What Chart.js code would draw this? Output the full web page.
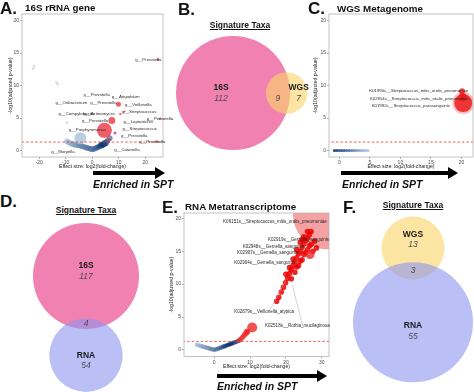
<!DOCTYPE html>
<html>
<head>
<meta charset="utf-8">
<script src="https://cdn.jsdelivr.net/npm/chart.js@4.4.0/dist/chart.umd.min.js"></script>
<style>
  html, body { margin: 0; padding: 0; background: #fff; }
  body { width: 474px; height: 392px; position: relative; overflow: hidden;
         font-family: "Liberation Sans", Arial, Helvetica, sans-serif; color: #111; }
  canvas { position: absolute; }
  .letter { position: absolute; font-weight: bold; font-size: 17px; line-height: 1; }
  .ptitle { position: absolute; font-weight: bold; font-size: 9.8px; line-height: 1; white-space: nowrap; }
  .vtitle { position: absolute; font-weight: bold; font-size: 8.5px; line-height: 1; text-decoration: underline;
            transform: translateX(-50%); white-space: nowrap; }
  .arrow { position: absolute; height: 4px; background: #000; }
  .arrow::after { content: ''; position: absolute; right: -10px; top: -4px; border-left: 10px solid #000;
                  border-top: 6px solid transparent; border-bottom: 6px solid transparent; }
  .enr { position: absolute; font-weight: bold; font-style: italic; font-size: 10.5px; line-height: 1; white-space: nowrap; }
</style>
</head>
<body>
<canvas id="chartA" width="180" height="162" style="left:0;top:10px"></canvas>
<canvas id="vennB" width="150" height="140" style="left:160px;top:28px"></canvas>
<canvas id="chartC" width="167" height="162" style="left:307px;top:10px"></canvas>
<canvas id="vennD" width="172" height="174" style="left:0;top:218px"></canvas>
<canvas id="chartE" width="180" height="165" style="left:160px;top:207px"></canvas>
<canvas id="vennF" width="134" height="180" style="left:340px;top:212px"></canvas>

<div class="letter" style="left:0;top:-0.5px">A.</div>
<div class="ptitle" style="left:25px;top:2.5px">16S rRNA gene</div>
<div class="letter" style="left:178px;top:0.5px">B.</div>
<div class="vtitle" style="left:240px;top:21px">Signature Taxa</div>
<div class="letter" style="left:308px;top:-0.5px">C.</div>
<div class="ptitle" style="left:337px;top:3.5px">WGS Metagenome</div>
<div class="letter" style="left:0;top:192.5px">D.</div>
<div class="vtitle" style="left:86px;top:206px">Signature Taxa</div>
<div class="letter" style="left:162px;top:198.5px">E.</div>
<div class="ptitle" style="left:185px;top:202px">RNA Metatranscriptome</div>
<div class="letter" style="left:343px;top:198.5px">F.</div>
<div class="vtitle" style="left:413px;top:201px">Signature Taxa</div>

<div class="arrow" style="left:93px;top:171px;width:62px"></div>
<div class="enr" style="left:93px;top:179px">Enriched in SPT</div>
<div class="arrow" style="left:341px;top:171px;width:107px"></div>
<div class="enr" style="left:342px;top:179px">Enriched in SPT</div>
<div class="arrow" style="left:217px;top:374px;width:100px"></div>
<div class="enr" style="left:217px;top:381px">Enriched in SPT</div>

<script>
// ---------- data ----------
const pThreshold = 1.3; // -log10(0.05)

// A. 16S rRNA gene
const aRedX = [4.6, 7.4, 9.9, 8.6, 6.4, 10.6, 12.2, 24.8, 25.6, 24.2];
const aRedY = [3.1, 4.6, 7.1, 2.7, 1.7, 5.6, 6.0, 14.0, 4.9, 1.4];
const aRedSize = [7.5, 3.5, 2.5, 1.5, 1.5, 1.2, 1.0, 1.2, 1.2, 1.2];
const aBlueX = [-9.5, -8.6, -7.8, -7, -6.2, -5.4, -4.6, -3.8, -3, -2.2, -1.4, -0.6, 0.2, 1, 1.8, 2.6, 3.4, 4.2, 5, 5.8, 6.6, -4.5];
const aBlueY = [1.4, 1.2, 1.05, 0.95, 0.85, 0.8, 0.75, 0.65, 0.55, 0.45, 0.35, 0.25, 0.2, 0.3, 0.45, 0.6, 0.8, 0.95, 1.15, 1.5, 1.9, 1.9];
const aBlueShade = [0.15, 0.2, 0.25, 0.3, 0.35, 0.4, 0.45, 0.5, 0.5, 0.55, 0.55, 0.6, 0.6, 0.65, 0.7, 0.8, 0.9, 1, 0.9, 0.7, 0.5, 0.1];
const aBlueSize = [2.8, 2.8, 2.8, 2.8, 2.8, 2.8, 2.8, 2.8, 2.8, 2.8, 2.8, 2.8, 2.8, 2.8, 2.8, 2.8, 3.2, 3.2, 3.2, 2.8, 2.8, 6];
const aGreyX = [-22.3, -22, -13.5, -13, -9.5];
const aGreyY = [12.6, 13, 10.5, 10.2, 4.3];
const aTaxa = ['g__Prevotella', 'g__Prevotella', 'g__Atopobium', 'g__Oribacterium', 'g__Prevotella', 'g__Veillonella',
  'g__Streptococcus', 'g__Campylobacter', 'g__Actinomyces', 'g__Prevotella', 'g__Prevotella', 'g__Leptotrichia',
  'g__Porphyromonas', 'g__Streptococcus', 'g__Prevotella', 'g__Prevotella', 'g__Catonella', 'g__Moryella'];
const aTaxaX = [16.2, -3.3, 7.4, -13.9, -0.75, 12.4, 11.2, -12.7, -3.3, 20.6, -3.9, 11.8, -8.9, 11.4, 10.9, 17.7, 8.3, -15.5];
const aTaxaY = [14, 8.5, 8.3, 7.3, 7.3, 7.1, 5.9, 5.6, 5.6, 4.8, 4.5, 4.4, 3.2, 3.3, 2.3, 1.3, 0.15, -0.25];

// C. WGS metagenome
const cRedX = [20.3, 20.2, 20.1];
const cRedY = [7.3, 8.2, 9.1];
const cRedSize = [9, 4, 3];
const cBlueX = [-0.8, -0.4, 0, 0.4, 0.8, 1.2, 1.6, 2, 2.4, 2.8, 3.2, 3.6, 4, 4.4, 4.7];
const cBlueY = [0, 0, 0, 0, 0, 0, 0, 0, 0, 0, 0, 0, 0, 0, 0];
const cBlueShade = [1, 0.95, 0.9, 0.85, 0.8, 0.72, 0.65, 0.58, 0.5, 0.42, 0.35, 0.28, 0.22, 0.16, 0.1];
const cKO = ['K01990s__Streptococcus_mitis_oralis_pneumoniae', 'K02954s__Streptococcus_mitis_oralis_pneumoniae',
  'K01992s__Streptococcus_parasanguinis'];
const cKOX = [4.9, 5.0, 5.3];
const cKOY = [9.2, 7.95, 6.8];

// E. RNA metatranscriptome
const eBlueX = [-4.8, -4.2, -3.6, -3, -2.4, -1.8, -1.2, -0.6, 0, 0.6, 1.2, 1.8, 2.4, 3, 3.6, 4.2, 4.8, 5.4, 6, 6.6];
const eBlueY = [0.78, 0.68, 0.58, 0.48, 0.39, 0.29, 0.2, 0.1, 0.02, 0.1, 0.22, 0.34, 0.46, 0.58, 0.7, 0.82, 0.95, 1.08, 1.2, 1.32];
const eBlueShade = [0.15, 0.2, 0.25, 0.3, 0.35, 0.4, 0.45, 0.5, 0.55, 0.6, 0.65, 0.72, 0.8, 0.88, 0.95, 1, 1, 0.95, 0.85, 0.75];
const eRedX = [7, 7.5, 8, 8.5, 9, 9.2, 10.6, 26.7];
const eRedY = [1.45, 1.7, 2, 2.3, 2.6, 2.8, 3.4, 14.5];
const eRedSize = [2.5, 2.5, 2.6, 2.8, 3, 3, 5, 4.5];
const eCloudX = [17.4, 18, 18.7, 19.3, 19.9, 20.5, 21, 21.5, 22, 22.5, 23, 23.5, 24, 24.5, 25, 25.5, 26, 26.5, 27,
  23, 24, 25, 26, 27, 28, 24.5, 26, 27.5, 28.5,
  20, 21, 22, 23, 24, 25, 21.5, 22.5, 23.5, 24.5, 25.5, 26.5];
const eCloudY = [7.4, 8, 8.8, 9.5, 10.2, 10.9, 11.6, 12.2, 12.8, 13.4, 14, 14.6, 15, 15.6, 16.1, 16.6, 17, 17.5, 18,
  12.6, 13.5, 14.5, 15.2, 16, 16.5, 16.8, 18, 15, 15.5,
  11.5, 12.5, 13.8, 15.2, 16.3, 17.2, 10.8, 11.8, 12.8, 13.7, 14.8, 15.8];
const eTopX = [31.7];
const eTopY = [20.6];
const eKO = ['K06151s__Streptococcus_mitis_oralis_pneumoniae', 'K02919s__Gemella_sanguinis', 'K02948s__Gemella_sanguinis',
  'K02907s__Gemella_sanguinis', 'K02904s__Gemella_sanguinis', 'K02879s__Veillonella_atypica', 'K02518s__Rothia_mucilaginosa'];
const eKOX = [2.5, 15, 8, 6.4, 5.6, 5.6, 14.2];
const eKOY = [19.4, 16.8, 15.7, 14.7, 13.3, 5.8, 3.7];
const eLinkFromX = [15.6, 24.7];
const eLinkFromY = [6.1, 3.6];
const eLinkToX = [19.8, 21.8];
const eLinkToY = [10.4, 9.8];

// Venn diagrams: unique counts per set and the shared count
const vennBSets = ['16S', 'WGS'];
const vennBOnly = [112, 7];
const vennBBoth = 9;
const vennDSets = ['16S', 'RNA'];
const vennDOnly = [117, 54];
const vennDBoth = 4;
const vennFSets = ['WGS', 'RNA'];
const vennFOnly = [13, 55];
const vennFBoth = 3;

// ---------- helpers ----------
Chart.defaults.font.family = "'Liberation Sans', Arial, sans-serif";

const pts = (xs, ys) => xs.map((x, i) => ({ x, y: ys[i] }));
function blue(t) {
  const a = [190, 215, 238], b = [8, 48, 107];
  const c = a.map((v, i) => Math.round(v + (b[i] - v) * t));
  return `rgba(${c[0]},${c[1]},${c[2]},0.85)`;
}
const RED = '#e8332e';

const framePlugin = {
  id: 'frame',
  afterDatasetsDraw(chart) {
    const { ctx, chartArea: a } = chart;
    ctx.save();
    ctx.strokeStyle = '#b3b3b3';
    ctx.lineWidth = 0.8;
    ctx.strokeRect(a.left, a.top, a.right - a.left, a.bottom - a.top);
    ctx.restore();
  }
};

function textPlugin(texts, xs, ys, size) {
  return {
    id: 'pointText',
    afterDatasetsDraw(chart) {
      const { ctx, scales } = chart;
      ctx.save();
      ctx.font = size + "px 'Liberation Sans', Arial, sans-serif";
      ctx.fillStyle = '#2a2a2a';
      ctx.textAlign = 'left';
      ctx.textBaseline = 'middle';
      texts.forEach((t, i) => ctx.fillText(t, scales.x.getPixelForValue(xs[i]), scales.y.getPixelForValue(ys[i])));
      ctx.restore();
    }
  };
}

function thresholdLine(xMin, xMax) {
  return {
    data: [{ x: xMin, y: pThreshold }, { x: xMax, y: pThreshold }],
    showLine: true, pointRadius: 0, borderColor: RED, borderWidth: 0.8, borderDash: [2.5, 2]
  };
}

function volcano(id, o) {
  return new Chart(document.getElementById(id), {
    type: 'scatter',
    data: { datasets: o.datasets },
    options: {
      responsive: false,
      animation: false,
      events: [],
      layout: { autoPadding: false, padding: { top: o.padTop, right: o.padRight, left: 0, bottom: 0 } },
      plugins: { legend: { display: false }, tooltip: { enabled: false } },
      scales: {
        x: {
          type: 'linear', min: o.xMin, max: o.xMax,
          afterFit: s => { s.height = o.xAxisH; },
          ticks: { stepSize: o.xStep, includeBounds: false, font: { size: 5 }, color: '#4d4d4d', padding: 1, maxRotation: 0 },
          grid: { drawOnChartArea: false, tickLength: 2, color: '#555', lineWidth: 0.5 },
          border: { display: false },
          title: { display: true, text: 'Effect size: log2(fold-change)', font: { size: 5.2 }, color: '#222', padding: { top: 0, bottom: 2 } }
        },
        y: {
          type: 'linear', min: -1, max: o.yMax,
          afterFit: s => { s.width = o.yAxisW; },
          ticks: { stepSize: 5, includeBounds: false, font: { size: 5 }, color: '#4d4d4d', padding: 1 },
          grid: { drawOnChartArea: false, tickLength: 2, color: '#555', lineWidth: 0.5 },
          border: { display: false },
          title: { display: true, text: '-log10(adjusted p-value)', font: { size: 5.2 }, color: '#222', padding: { top: o.yTitlePad, bottom: 0 } }
        }
      }
    },
    plugins: [framePlugin, textPlugin(o.texts, o.textX, o.textY, o.textSize)]
  });
}

// ---------- A ----------
volcano('chartA', {
  xMin: -26.5, xMax: 26.7, xStep: 10, yMax: 21,
  padTop: 3, padRight: 17, xAxisH: 15, yAxisW: 22, yTitlePad: 7,
  texts: aTaxa, textX: aTaxaX, textY: aTaxaY, textSize: 4.3,
  datasets: [
    thresholdLine(-30, 30),
    { data: pts(aRedX, aRedY), pointRadius: aRedSize, backgroundColor: 'rgba(236,50,60,0.78)', borderWidth: 0 },
    { data: pts(aBlueX, aBlueY), pointRadius: aBlueSize, backgroundColor: aBlueShade.map(blue), borderWidth: 0 },
    { data: pts(aGreyX, aGreyY), pointRadius: 1.5, backgroundColor: 'rgba(170,170,170,0.35)', borderWidth: 0 }
  ]
});

// ---------- C ----------
volcano('chartC', {
  xMin: -1.7, xMax: 21.9, xStep: 5, yMax: 21,
  padTop: 3, padRight: 1, xAxisH: 15, yAxisW: 22, yTitlePad: 5,
  texts: cKO, textX: cKOX, textY: cKOY, textSize: 4.3,
  datasets: [
    thresholdLine(-5, 30),
    { data: pts(cRedX, cRedY), pointRadius: cRedSize, backgroundColor: 'rgba(236,20,20,0.8)', borderWidth: 0 },
    { data: pts(cRedX.slice(0, 1), cRedY.slice(0, 1)), pointRadius: 11, backgroundColor: 'rgba(240,60,60,0.35)', borderWidth: 0 },
    { data: pts(cBlueX, cBlueY), pointRadius: 1.6, backgroundColor: cBlueShade.map(blue), borderWidth: 0 }
  ]
});

// ---------- E ----------
volcano('chartE', {
  xMin: -8.4, xMax: 32, xStep: 10, yMax: 20.8,
  padTop: 6, padRight: 11, xAxisH: 15.5, yAxisW: 24, yTitlePad: 8.5,
  texts: eKO, textX: eKOX, textY: eKOY, textSize: 4.5,
  datasets: [
    thresholdLine(-10, 40),
    { data: pts([eLinkFromX[0], eLinkToX[0]], [eLinkFromY[0], eLinkToY[0]]), showLine: true, pointRadius: 0, borderColor: '#aaa', borderWidth: 0.5 },
    { data: pts([eLinkFromX[1], eLinkToX[1]], [eLinkFromY[1], eLinkToY[1]]), showLine: true, pointRadius: 0, borderColor: '#aaa', borderWidth: 0.5 },
    { data: pts(eRedX, eRedY), pointRadius: eRedSize, backgroundColor: 'rgba(238,40,40,0.8)', borderWidth: 0 },
    { data: pts(eCloudX, eCloudY), pointRadius: 2.8, backgroundColor: 'rgba(235,0,0,0.85)', borderWidth: 0 },
    { data: pts(eBlueX, eBlueY), pointRadius: 2.3, backgroundColor: eBlueShade.map(blue), borderWidth: 0 },
    { data: pts(eTopX, eTopY), pointRadius: 35, backgroundColor: 'rgba(240,100,100,0.6)', borderWidth: 0, clip: 0 }
  ]
});

// ---------- Venn diagrams (area-proportional circles) ----------
function lensArea(r1, r2, d) {
  if (d >= r1 + r2) return 0;
  if (d <= Math.abs(r1 - r2)) return Math.PI * Math.min(r1, r2) ** 2;
  const a1 = Math.acos((d * d + r1 * r1 - r2 * r2) / (2 * d * r1));
  const a2 = Math.acos((d * d + r2 * r2 - r1 * r1) / (2 * d * r2));
  return r1 * r1 * a1 + r2 * r2 * a2 - 0.5 * Math.sqrt((-d + r1 + r2) * (d + r1 - r2) * (d - r1 + r2) * (d + r1 + r2));
}
function centreDistance(r1, r2, area) {
  let lo = Math.abs(r1 - r2), hi = r1 + r2;
  for (let i = 0; i < 60; i++) {
    const mid = (lo + hi) / 2;
    if (lensArea(r1, r2, mid) > area) lo = mid; else hi = mid;
  }
  return (lo + hi) / 2;
}

function venn(id, sets, only, both, colours, o) {
  const r1 = Math.sqrt((only[0] + both) / Math.PI);
  const r2 = Math.sqrt((only[1] + both) / Math.PI);
  const d = centreDistance(r1, r2, both);
  const [ux, uy] = o.dir;
  const canvas = document.getElementById(id);
  const W = canvas.width, H = canvas.height;
  const along = s => ({ x: ux * s, y: uy * s });
  const radius = r => ctx => {
    const s = ctx.chart.scales.x;
    return Math.abs(s.getPixelForValue(r) - s.getPixelForValue(0)) || 0;
  };
  const marks = [
    { at: along((-r1 + d - r2) / 2), name: sets[0], count: only[0] },
    { at: along((d - r2 + r1) / 2), count: both, dy: o.overlapDy },
    { at: along((r1 + d + r2) / 2), name: sets[1], count: only[1] }
  ];
  const labels = {
    id: 'vennText',
    afterDatasetsDraw(chart) {
      const { ctx, scales } = chart;
      ctx.save();
      ctx.textAlign = 'center';
      ctx.textBaseline = 'middle';
      marks.forEach(m => {
        const x = scales.x.getPixelForValue(m.at.x), y = scales.y.getPixelForValue(m.at.y);
        if (m.name) {
          ctx.font = "bold 8.5px 'Liberation Sans', Arial, sans-serif";
          ctx.fillStyle = '#1a1a1a';
          ctx.fillText(m.name, x, y - 5);
          ctx.font = "italic 8.5px 'Liberation Sans', Arial, sans-serif";
          ctx.fillStyle = '#4a4a55';
          ctx.fillText(m.count, x, y + 5.5);
        } else {
          ctx.font = "italic 8.5px 'Liberation Sans', Arial, sans-serif";
          ctx.fillStyle = '#4a4a55';
          ctx.fillText(m.count, x, y + (m.dy || 0));
        }
      });
      ctx.restore();
    }
  };
  return new Chart(canvas, {
    type: 'scatter',
    data: {
      datasets: [
        { data: [along(d)], pointRadius: radius(r2), backgroundColor: colours[1], borderWidth: 0, clip: false },
        { data: [along(0)], pointRadius: radius(r1), backgroundColor: colours[0], borderWidth: 0, clip: false }
      ]
    },
    options: {
      responsive: false, animation: false, events: [],
      layout: { autoPadding: false, padding: 0 },
      plugins: { legend: { display: false }, tooltip: { enabled: false } },
      scales: {
        x: { display: false, min: -o.ax / o.ppu, max: (W - o.ax) / o.ppu },
        y: { display: false, min: -(H - o.ay) / o.ppu, max: o.ay / o.ppu }
      }
    },
    plugins: [labels]
  });
}

const PINK = 'rgba(236,80,145,0.72)';
const YELLOW = 'rgba(250,212,105,0.62)';
const BLUE = 'rgba(140,150,240,0.6)';

venn('vennB', vennBSets, vennBOnly, vennBBoth, [PINK, YELLOW], { ppu: 9.18, ax: 73, ay: 65, dir: [1, 0], overlapDy: 5.5 });
venn('vennD', vennDSets, vennDOnly, vennDBoth, [PINK, BLUE], { ppu: 8.54, ax: 86, ay: 58, dir: [0, -1], overlapDy: 0 });
venn('vennF', vennFSets, vennFOnly, vennFBoth, [YELLOW, BLUE], { ppu: 13.96, ax: 73, ay: 36, dir: [0, -1], overlapDy: 0 });
</script>
</body>
</html>
